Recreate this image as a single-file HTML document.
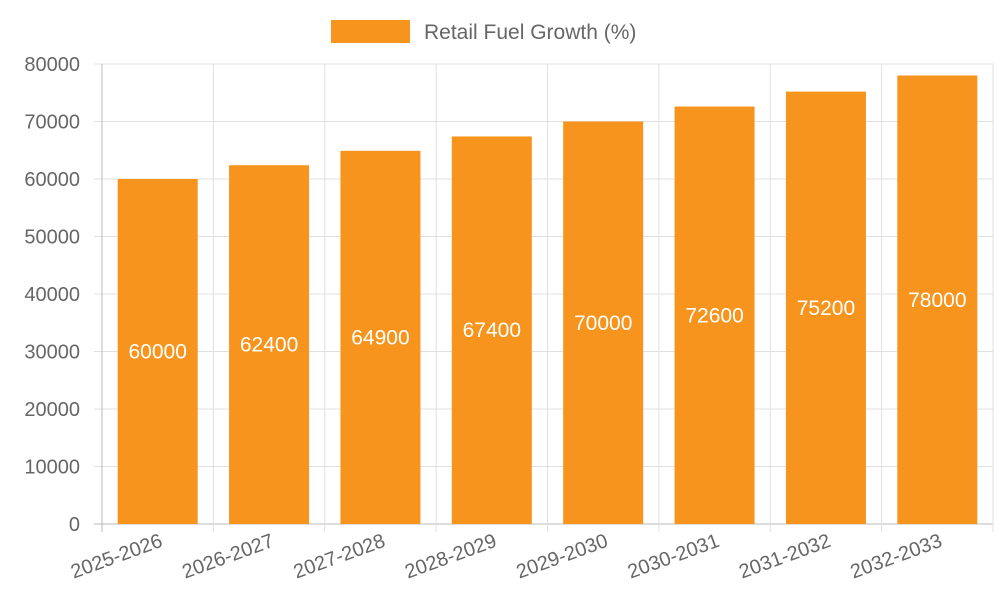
<!DOCTYPE html>
<html><head><meta charset="utf-8">
<style>
html,body{margin:0;padding:0;background:#fff;}
svg{display:block;font-family:"Liberation Sans",sans-serif;}
</style></head>
<body>
<svg id="chart" width="1000" height="600">
  <rect x="331" y="20" width="79" height="23" fill="#f7941d"/>
  <text x="424" y="39" font-size="21" fill="#666">Retail Fuel Growth (%)</text>
  <g id="grid"></g>
  <g id="bars"></g>
  <g id="labels"></g>
</svg>
<script>
const categories = ["2025-2026","2026-2027","2027-2028","2028-2029","2029-2030","2030-2031","2031-2032","2032-2033"];
const values = [60000,62400,64900,67400,70000,72600,75200,78000];
const yTicks = [0,10000,20000,30000,40000,50000,60000,70000,80000];

const L=102, R=993, T=64, B=524, yMax=80000;
const NS="http://www.w3.org/2000/svg";
const bw=(R-L)/categories.length;
function y(v){return B-(v/yMax)*(B-T);}
function x(i){return L+bw*i;}
function mk(tag,attrs,parent,text){
  const e=document.createElementNS(NS,tag);
  for(const k in attrs)e.setAttribute(k,attrs[k]);
  if(text!==undefined)e.textContent=text;
  parent.appendChild(e);return e;
}
const grid=document.getElementById('grid'), bars=document.getElementById('bars'), labels=document.getElementById('labels');
yTicks.forEach(t=>{
  const g=mk('line',{x1:94,x2:R,y1:y(t),y2:y(t),stroke:t===0?'#bbb':'#e0e0e0','stroke-width':1},grid);
  
  
  const tl=mk('text',{x:80,y:y(t)+7,'text-anchor':'end','font-size':20,fill:'#666'},grid,String(t));
  
  
});
for(let i=0;i<=categories.length;i++){
  const l=mk('line',{x1:x(i),x2:x(i),y1:T,y2:532,stroke:i===0?'#bbb':'#e0e0e0','stroke-width':1},grid);
  
  
}
categories.forEach((c,i)=>{
  const cx=x(i)+bw/2, w=80;
  const r=mk('rect',{x:cx-w/2,y:y(values[i]),width:w,height:B-y(values[i]),fill:'#f7941d'},bars);
  
  
  const vl=mk('text',{x:cx,y:(y(values[i])+B)/2+7,'text-anchor':'middle','font-size':21,fill:'#fff'},labels,String(values[i]));
  
  
  const xl=mk('text',{x:cx+6,y:546,'text-anchor':'end','font-size':20,fill:'#666',transform:`rotate(-20 ${cx+6} 546)`},labels,c);
  
  
});
</script>
</body></html>
